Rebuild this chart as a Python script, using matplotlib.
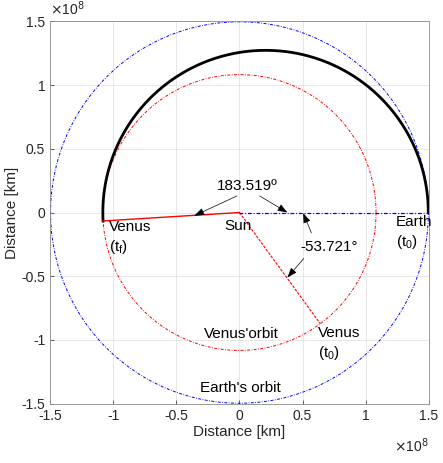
import numpy as np
import matplotlib
matplotlib.use("Agg")
import matplotlib.pyplot as plt

plt.rcParams['font.family'] = ['Liberation Sans', 'DejaVu Sans']
plt.rcParams['axes.unicode_minus'] = False

# Orbit data [km]
r_earth = 1.496e8
r_venus = 1.082e8
theta_venus_tf = 183.519   # deg, Venus at arrival
theta_venus_t0 = -53.721   # deg, Venus at departure
ticks = [-1.5, -1, -0.5, 0, 0.5, 1, 1.5]
tick_labels = ['-1.5', '-1', '-0.5', '0', '0.5', '1', '1.5']

# Transfer ellipse (aphelion at Earth, perihelion at Venus)
a_t = (r_earth + r_venus) / 2
e_t = (r_earth - r_venus) / (r_earth + r_venus)
p_t = a_t * (1 - e_t**2)

th = np.linspace(0, 2*np.pi, 721)
th_tr = np.linspace(0, np.radians(theta_venus_tf), 400)
r_tr = p_t / (1 - e_t*np.cos(th_tr))

vtf = r_venus*np.array([np.cos(np.radians(theta_venus_tf)), np.sin(np.radians(theta_venus_tf))])
vt0 = r_venus*np.array([np.cos(np.radians(theta_venus_t0)), np.sin(np.radians(theta_venus_t0))])

dashdot = (0, (3, 1.5, 0.8, 1.5))

fig = plt.figure(figsize=(4.43, 4.63), dpi=100)
ax = fig.add_axes([0.113, 0.128, 0.855, 0.826])

ax.plot(r_earth*np.cos(th), r_earth*np.sin(th), color='b', ls=dashdot, lw=0.7)
ax.plot(r_venus*np.cos(th), r_venus*np.sin(th), color='r', ls=dashdot, lw=0.7)
ax.plot(r_tr*np.cos(th_tr), r_tr*np.sin(th_tr), 'k-', lw=2.0)
ax.plot([0, vtf[0]], [0, vtf[1]], 'r-', lw=1.0)
ax.plot([0, vt0[0]], [0, vt0[1]], color='r', ls=(0, (2.5, 1.2)), lw=0.8)
ax.plot([0, r_earth], [0, 0], color='b', ls=dashdot, lw=0.9)

ax.set_xlim(-1.5e8, 1.5e8)
ax.set_ylim(-1.5e8, 1.5e8)
ax.set_xticks(np.array(ticks)*1e8)
ax.set_yticks(np.array(ticks)*1e8)
ax.set_xticklabels(tick_labels)
ax.set_yticklabels(tick_labels)
ax.tick_params(direction='in', length=3, width=0.5, labelsize=10, colors='#262626')
ax.grid(True, color='#e3e3e3', lw=0.6)
ax.set_axisbelow(True)
for s in ax.spines.values():
    s.set_color('#8c8c8c')
    s.set_linewidth(0.6)

ax.set_xlabel('Distance [km]', fontsize=11, color='#262626', labelpad=2)
ax.set_ylabel('Distance [km]', fontsize=11, color='#262626', labelpad=2)
ax.text(0.0, 1.008, r'$\times$10$^8$', transform=ax.transAxes, fontsize=10, color='#262626', va='bottom')
ax.text(1.0, -0.085, r'$\times$10$^8$', transform=ax.transAxes, fontsize=10, color='#262626', ha='right', va='top')

fs = 11
arrow = dict(arrowstyle='-|>,head_length=0.6,head_width=0.22', lw=0.5, color='k', shrinkA=0, shrinkB=0)
ax.text(0.06e8, 0.205e8, '183.519º', fontsize=fs, ha='center', va='center')
ax.annotate('', xy=(-0.357e8, -0.025e8), xytext=(-0.02e8, 0.13e8), arrowprops=arrow)
ax.annotate('', xy=(0.38e8, 0.0), xytext=(0.16e8, 0.13e8), arrowprops=arrow)
ax.text(0.71e8, -0.27e8, '-53.721°', fontsize=fs, ha='center', va='center')
ax.annotate('', xy=(0.505e8, -0.005e8), xytext=(0.57e8, -0.16e8), arrowprops=arrow)
ax.annotate('', xy=(0.38e8, -0.51e8), xytext=(0.51e8, -0.36e8), arrowprops=arrow)

ax.text(-0.12e8, -0.105e8, 'Sun', fontsize=fs, ha='left', va='center')
ax.text(-1.03e8, -0.2e8, 'Venus\n(t$_\\mathregular{f}$)', fontsize=fs, ha='left', va='center', linespacing=1.3)
ax.text(1.24e8, -0.16e8, 'Earth\n(t$_\\mathregular{0}$)', fontsize=fs, ha='left', va='center', linespacing=1.3)
ax.text(-0.28e8, -0.95e8, "Venus'orbit", fontsize=fs, ha='left', va='center')
ax.text(0.62e8, -1.03e8, 'Venus\n(t$_\\mathregular{0}$)', fontsize=fs, ha='left', va='center', linespacing=1.3)
ax.text(-0.31e8, -1.38e8, "Earth's orbit", fontsize=fs, ha='left', va='center')

fig.savefig('out.png', dpi=100)
